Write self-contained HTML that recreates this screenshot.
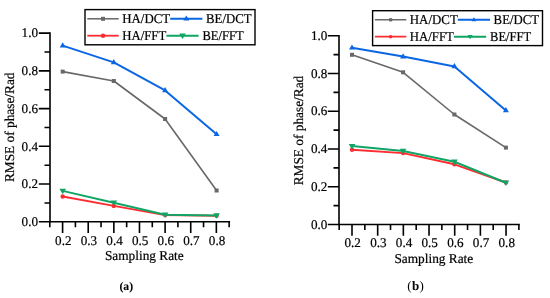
<!DOCTYPE html>
<html><head><meta charset="utf-8"><title>RMSE of phase vs Sampling Rate</title>
<style>html,body{margin:0;padding:0;background:#fff}svg{display:block}text{font-family:"Liberation Serif",serif;font-size:13.5px;fill:#000;text-rendering:geometricPrecision;stroke:#000;stroke-width:0.2px}</style>
</head><body>
<svg width="550" height="298" viewBox="0 0 550 298">
<rect width="550" height="298" fill="#fff"/>
<path d="M50 33.1V221.8H229.3" fill="none" stroke="#000" stroke-width="1.6" stroke-linecap="square"/>
<path d="M38.80 221.80H50M44.50 202.93H50M38.80 184.06H50M44.50 165.19H50M38.80 146.32H50M44.50 127.45H50M38.80 108.58H50M44.50 89.71H50M38.80 70.84H50M44.50 51.97H50M38.80 33.10H50M49.79 221.8V227.30M62.60 221.8V233.00M75.41 221.8V227.30M88.22 221.8V233.00M101.04 221.8V227.30M113.85 221.8V233.00M126.66 221.8V227.30M139.47 221.8V233.00M152.29 221.8V227.30M165.10 221.8V233.00M177.91 221.8V227.30M190.72 221.8V233.00M203.54 221.8V227.30M216.35 221.8V233.00M229.16 221.8V227.30" fill="none" stroke="#000" stroke-width="1.6"/>
<text transform="translate(38.00 226.00) scale(0.987 1)" text-anchor="end" style="font-size:13.3px">0.0</text>
<text transform="translate(38.00 188.26) scale(0.987 1)" text-anchor="end" style="font-size:13.3px">0.2</text>
<text transform="translate(38.00 150.52) scale(0.987 1)" text-anchor="end" style="font-size:13.3px">0.4</text>
<text transform="translate(38.00 112.78) scale(0.987 1)" text-anchor="end" style="font-size:13.3px">0.6</text>
<text transform="translate(38.00 75.04) scale(0.987 1)" text-anchor="end" style="font-size:13.3px">0.8</text>
<text transform="translate(38.00 37.30) scale(0.987 1)" text-anchor="end" style="font-size:13.3px">1.0</text>
<text transform="translate(63.30 244.70) scale(0.987 1)" text-anchor="middle" style="font-size:13.3px">0.2</text>
<text transform="translate(88.92 244.70) scale(0.987 1)" text-anchor="middle" style="font-size:13.3px">0.3</text>
<text transform="translate(114.55 244.70) scale(0.987 1)" text-anchor="middle" style="font-size:13.3px">0.4</text>
<text transform="translate(140.17 244.70) scale(0.987 1)" text-anchor="middle" style="font-size:13.3px">0.5</text>
<text transform="translate(165.80 244.70) scale(0.987 1)" text-anchor="middle" style="font-size:13.3px">0.6</text>
<text transform="translate(191.42 244.70) scale(0.987 1)" text-anchor="middle" style="font-size:13.3px">0.7</text>
<text transform="translate(217.05 244.70) scale(0.987 1)" text-anchor="middle" style="font-size:13.3px">0.8</text>
<text transform="translate(144.30 260.40) scale(0.987 1)" text-anchor="middle">Sampling Rate</text>
<text transform="translate(14.20 127.30) rotate(-90) scale(0.987 1)" text-anchor="middle">RMSE of phase/Rad</text>
<polyline points="62.7,71.6 113.8,81.0 165.1,119.0 216.6,190.5" fill="none" stroke="#686868" stroke-width="1.6" stroke-linejoin="round"/>
<rect x="60.7" y="69.6" width="4.0" height="4.0" fill="#686868"/>
<rect x="111.8" y="79.0" width="4.0" height="4.0" fill="#686868"/>
<rect x="163.1" y="117.0" width="4.0" height="4.0" fill="#686868"/>
<rect x="214.6" y="188.5" width="4.0" height="4.0" fill="#686868"/>
<polyline points="62.7,45.6 113.8,62.4 165.1,90.4 216.6,134.2" fill="none" stroke="#0b66e4" stroke-width="2.0" stroke-linejoin="round"/>
<path d="M62.7 42.3L65.7 47.4H59.7Z" fill="#0b66e4"/>
<path d="M113.8 59.1L116.8 64.2H110.8Z" fill="#0b66e4"/>
<path d="M165.1 87.1L168.1 92.2H162.1Z" fill="#0b66e4"/>
<path d="M216.6 130.9L219.6 136.0H213.6Z" fill="#0b66e4"/>
<polyline points="62.7,196.5 113.8,205.9 165.1,215.1 216.6,215.7" fill="none" stroke="#fd2c30" stroke-width="1.9" stroke-linejoin="round"/>
<circle cx="62.7" cy="196.5" r="2.20" fill="#fd2c30"/>
<circle cx="113.8" cy="205.9" r="2.20" fill="#fd2c30"/>
<circle cx="165.1" cy="215.1" r="2.20" fill="#fd2c30"/>
<circle cx="216.6" cy="215.7" r="2.20" fill="#fd2c30"/>
<polyline points="62.7,190.9 113.8,202.8 165.1,214.7 216.6,215.4" fill="none" stroke="#10a565" stroke-width="2.0" stroke-linejoin="round"/>
<path d="M62.7 194.2L66.0 188.7H59.4Z" fill="#10a565"/>
<path d="M113.8 206.1L117.1 200.6H110.5Z" fill="#10a565"/>
<path d="M165.1 218.0L168.4 212.5H161.8Z" fill="#10a565"/>
<path d="M216.6 218.7L219.9 213.2H213.3Z" fill="#10a565"/>
<rect x="85" y="9.6" width="170" height="35.199999999999996" fill="#fff" stroke="#000" stroke-width="1.4"/>
<path d="M87.3 18.8H118.7" stroke="#686868" stroke-width="1.52"/>
<rect x="101.0" y="16.8" width="4.0" height="4.0" fill="#686868"/>
<text transform="translate(122.20 23.40) scale(0.987 1)" text-anchor="start" textLength="48.63" lengthAdjust="spacingAndGlyphs">HA/DCT</text>
<path d="M170.2 18.8H202.4" stroke="#0b66e4" stroke-width="1.90"/>
<path d="M186.3 15.5L189.3 20.6H183.3Z" fill="#0b66e4"/>
<text transform="translate(206.00 23.40) scale(0.987 1)" text-anchor="start" textLength="46.20" lengthAdjust="spacingAndGlyphs">BE/DCT</text>
<path d="M87.3 35.7H118.7" stroke="#fd2c30" stroke-width="1.80"/>
<circle cx="103.0" cy="35.7" r="2.20" fill="#fd2c30"/>
<text transform="translate(122.20 40.30) scale(0.987 1)" text-anchor="start" textLength="44.58" lengthAdjust="spacingAndGlyphs">HA/FFT</text>
<path d="M166.4 35.7H198.6" stroke="#10a565" stroke-width="1.90"/>
<path d="M182.5 39.0L185.8 33.5H179.2Z" fill="#10a565"/>
<text transform="translate(202.40 40.30) scale(0.987 1)" text-anchor="start" textLength="41.74" lengthAdjust="spacingAndGlyphs">BE/FFT</text>
<text x="126.3" y="290" text-anchor="middle" style="font-weight:bold;font-size:11.7px;stroke-width:0.1px">(a)</text>
<path d="M339 35.7V224.5H519" fill="none" stroke="#000" stroke-width="1.6" stroke-linecap="square"/>
<path d="M327.80 224.50H339M333.50 205.62H339M327.80 186.74H339M333.50 167.86H339M327.80 148.98H339M333.50 130.10H339M327.80 111.22H339M333.50 92.34H339M327.80 73.46H339M333.50 54.58H339M327.80 35.70H339M339.16 224.5V230.00M352.00 224.5V235.70M364.84 224.5V230.00M377.68 224.5V235.70M390.51 224.5V230.00M403.35 224.5V235.70M416.19 224.5V230.00M429.02 224.5V235.70M441.86 224.5V230.00M454.70 224.5V235.70M467.54 224.5V230.00M480.38 224.5V235.70M493.21 224.5V230.00M506.05 224.5V235.70M518.89 224.5V230.00" fill="none" stroke="#000" stroke-width="1.6"/>
<text transform="translate(327.40 228.70) scale(0.987 1)" text-anchor="end" style="font-size:13.3px">0.0</text>
<text transform="translate(327.40 190.94) scale(0.987 1)" text-anchor="end" style="font-size:13.3px">0.2</text>
<text transform="translate(327.40 153.18) scale(0.987 1)" text-anchor="end" style="font-size:13.3px">0.4</text>
<text transform="translate(327.40 115.42) scale(0.987 1)" text-anchor="end" style="font-size:13.3px">0.6</text>
<text transform="translate(327.40 77.66) scale(0.987 1)" text-anchor="end" style="font-size:13.3px">0.8</text>
<text transform="translate(327.40 39.90) scale(0.987 1)" text-anchor="end" style="font-size:13.3px">1.0</text>
<text transform="translate(352.70 247.00) scale(0.987 1)" text-anchor="middle" style="font-size:13.3px">0.2</text>
<text transform="translate(378.38 247.00) scale(0.987 1)" text-anchor="middle" style="font-size:13.3px">0.3</text>
<text transform="translate(404.05 247.00) scale(0.987 1)" text-anchor="middle" style="font-size:13.3px">0.4</text>
<text transform="translate(429.72 247.00) scale(0.987 1)" text-anchor="middle" style="font-size:13.3px">0.5</text>
<text transform="translate(455.40 247.00) scale(0.987 1)" text-anchor="middle" style="font-size:13.3px">0.6</text>
<text transform="translate(481.07 247.00) scale(0.987 1)" text-anchor="middle" style="font-size:13.3px">0.7</text>
<text transform="translate(506.75 247.00) scale(0.987 1)" text-anchor="middle" style="font-size:13.3px">0.8</text>
<text transform="translate(433.80 262.80) scale(0.987 1)" text-anchor="middle">Sampling Rate</text>
<text transform="translate(303.10 130.50) rotate(-90) scale(0.987 1)" text-anchor="middle">RMSE of phase/Rad</text>
<polyline points="352.0,54.8 403.1,72.3 454.4,114.5 505.9,147.6" fill="none" stroke="#686868" stroke-width="1.6" stroke-linejoin="round"/>
<rect x="350.0" y="52.8" width="4.0" height="4.0" fill="#686868"/>
<rect x="401.1" y="70.3" width="4.0" height="4.0" fill="#686868"/>
<rect x="452.4" y="112.5" width="4.0" height="4.0" fill="#686868"/>
<rect x="503.9" y="145.6" width="4.0" height="4.0" fill="#686868"/>
<polyline points="352.0,47.8 403.1,56.6 454.4,66.4 505.9,110.4" fill="none" stroke="#0b66e4" stroke-width="2.0" stroke-linejoin="round"/>
<path d="M352.0 44.5L355.0 49.6H349.0Z" fill="#0b66e4"/>
<path d="M403.1 53.3L406.1 58.4H400.1Z" fill="#0b66e4"/>
<path d="M454.4 63.1L457.4 68.2H451.4Z" fill="#0b66e4"/>
<path d="M505.9 107.1L508.9 112.2H502.9Z" fill="#0b66e4"/>
<polyline points="352.0,149.7 403.1,153.1 454.4,164.3 505.9,182.5" fill="none" stroke="#fd2c30" stroke-width="1.9" stroke-linejoin="round"/>
<circle cx="352.0" cy="149.7" r="2.20" fill="#fd2c30"/>
<circle cx="403.1" cy="153.1" r="2.20" fill="#fd2c30"/>
<circle cx="454.4" cy="164.3" r="2.20" fill="#fd2c30"/>
<circle cx="505.9" cy="182.5" r="2.20" fill="#fd2c30"/>
<polyline points="352.0,146.1 403.1,150.9 454.4,161.8 505.9,182.8" fill="none" stroke="#10a565" stroke-width="2.0" stroke-linejoin="round"/>
<path d="M352.0 149.4L355.3 143.9H348.7Z" fill="#10a565"/>
<path d="M403.1 154.2L406.4 148.7H399.8Z" fill="#10a565"/>
<path d="M454.4 165.1L457.7 159.6H451.1Z" fill="#10a565"/>
<path d="M505.9 186.1L509.2 180.6H502.6Z" fill="#10a565"/>
<rect x="372.6" y="10.7" width="169.89999999999998" height="34.900000000000006" fill="#fff" stroke="#000" stroke-width="1.4"/>
<path d="M374.9 19.8H406.3" stroke="#686868" stroke-width="1.52"/>
<rect x="389.0" y="18.2" width="3.2" height="3.2" fill="#686868"/>
<text transform="translate(409.80 24.40) scale(0.987 1)" text-anchor="start" textLength="48.63" lengthAdjust="spacingAndGlyphs">HA/DCT</text>
<path d="M457.8 19.8H490.0" stroke="#0b66e4" stroke-width="1.90"/>
<path d="M473.9 17.2L476.3 21.2H471.5Z" fill="#0b66e4"/>
<text transform="translate(493.60 24.40) scale(0.987 1)" text-anchor="start" textLength="46.20" lengthAdjust="spacingAndGlyphs">BE/DCT</text>
<path d="M374.9 36.7H406.3" stroke="#fd2c30" stroke-width="1.80"/>
<circle cx="390.6" cy="36.7" r="1.76" fill="#fd2c30"/>
<text transform="translate(409.80 41.30) scale(0.987 1)" text-anchor="start" textLength="44.58" lengthAdjust="spacingAndGlyphs">HA/FFT</text>
<path d="M454.0 36.7H486.2" stroke="#10a565" stroke-width="1.90"/>
<path d="M470.1 39.3L472.7 34.9H467.5Z" fill="#10a565"/>
<text transform="translate(490.00 41.30) scale(0.987 1)" text-anchor="start" textLength="41.74" lengthAdjust="spacingAndGlyphs">BE/FFT</text>
<text x="415.7" y="290" text-anchor="middle" style="font-size:13px;stroke:none;letter-spacing:0.3px">(<tspan style="font-weight:bold">b</tspan>)</text>
</svg>
</body></html>
